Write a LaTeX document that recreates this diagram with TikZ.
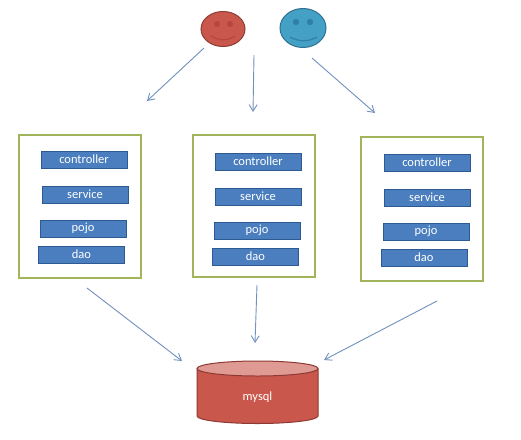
\documentclass[tikz,border=0pt]{standalone}
\usepackage{fontspec}
\setmainfont{Carlito}
\usetikzlibrary{calc, shapes.geometric, positioning, arrows.meta}

\definecolor{layerblue}{HTML}{4A7EBF}
\definecolor{layeredge}{HTML}{2D5A92}
\definecolor{framegreen}{HTML}{A3B55C}
\definecolor{arrowblue}{HTML}{7090BE}
\definecolor{dbred}{HTML}{C9574C}
\definecolor{dbedge}{HTML}{8C3A33}
\definecolor{dbtop}{HTML}{E09A94}
\definecolor{faceblue}{HTML}{45A0C6}
\definecolor{faceblueedge}{HTML}{2F6F8F}
\definecolor{eyered}{HTML}{B5483E}
\definecolor{eyeblue}{HTML}{2F80A8}

\tikzset{
  frame/.style={draw=framegreen, line width=1.8pt, fill=white, minimum width=122pt, anchor=north west},
  layer/.style={draw=layeredge, line width=0.9pt, fill=layerblue, text=white, minimum width=86pt, minimum height=17.5pt, inner sep=0pt, font=\fontsize{12.5}{13}\selectfont},
  flow/.style={-{Straight Barb[length=6.5pt, width=8pt]}, draw=arrowblue, line width=0.9pt},
  face/.style={ellipse, draw=#1!70!black, line width=1pt, fill=#1, inner sep=0pt},
}

\begin{document}
\begin{tikzpicture}[x=1pt, y=-1pt]
    \useasboundingbox (0,0) rectangle (521,439);

    % Hai khuon mat
    \node[face=dbred, minimum width=44pt, minimum height=35pt] (facered) at (223,29) {};
    \node[face=faceblue, draw=faceblueedge, minimum width=46pt, minimum height=39pt] (faceblue) at (303,28) {};
    \fill[eyered] ($(facered)+(-6,-5)$) circle (3pt) ($(facered)+(7,-5)$) circle (3pt);
    \draw[eyered, line width=1.2pt] ($(facered)+(-12,7)$) .. controls ($(facered)+(-4,12)$) and ($(facered)+(5,12)$) .. ($(facered)+(12,7)$);
    \fill[eyeblue] ($(faceblue)+(-7,-6)$) circle (3.2pt) ($(faceblue)+(7,-6)$) circle (3.2pt);
    \draw[eyeblue, line width=1.2pt] ($(faceblue)+(-13,9)$) .. controls ($(faceblue)+(-4,14)$) and ($(faceblue)+(5,14)$) .. ($(faceblue)+(14,9)$);

    % Ba khung ung dung
    \node[frame, minimum height=143pt] (appa) at (18,134) {};
    \node[frame, minimum height=142pt] (appb) at (192,134) {};
    \node[frame, minimum height=144pt] (appc) at (360,136) {};

    % Cac lop trong moi khung
    \foreach \name/\xa/\xb/\xc/\xd/\ya in {a/84/85/83/81.5/151, b/258/258/257/255.5/153, c/427/427/426/424/154} {
        \node[layer] (controller\name) at (\xa,\ya+8.7) {controller};
        \node[layer] (service\name) at (\xb,\ya+43.7) {service};
        \node[layer] (pojo\name) at (\xc,\ya+77.7) {pojo};
        \node[layer] (dao\name) at (\xd,\ya+103.7) {dao};
    }

    % Co so du lieu
    \draw[draw=dbedge, line width=1pt, fill=dbred] (197,369) -- (197,416) arc[start angle=180, end angle=360, x radius=60.5, y radius=-7.5] -- (318,369) -- cycle;
    \node[ellipse, draw=dbedge, line width=1pt, fill=dbtop, minimum width=121pt, minimum height=15pt, inner sep=0pt] (dbcap) at (257.5,368.5) {};
    \node[text=white, font=\fontsize{12.5}{13}\selectfont] (mysql) at (257.5,397) {mysql};

    % Dau mui ten
    \coordinate (usera) at (204,48);
    \coordinate (userb) at (254,55);
    \coordinate (userc) at (312,58);
    \coordinate (enta) at (147,101);
    \coordinate (entb) at (253,112);
    \coordinate (entc) at (375,113);
    \coordinate (leavea) at (87,288);
    \coordinate (leaveb) at (257,285);
    \coordinate (leavec) at (437,301);
    \coordinate (dba) at (182,361);
    \coordinate (dbb) at (255,343);
    \coordinate (dbc) at (324,360);

    \draw[flow] (usera) -- (enta);
    \draw[flow] (userb) -- (entb);
    \draw[flow] (userc) -- (entc);
    \draw[flow] (leavea) -- (dba);
    \draw[flow] (leaveb) -- (dbb);
    \draw[flow] (leavec) -- (dbc);
\end{tikzpicture}
\end{document}
